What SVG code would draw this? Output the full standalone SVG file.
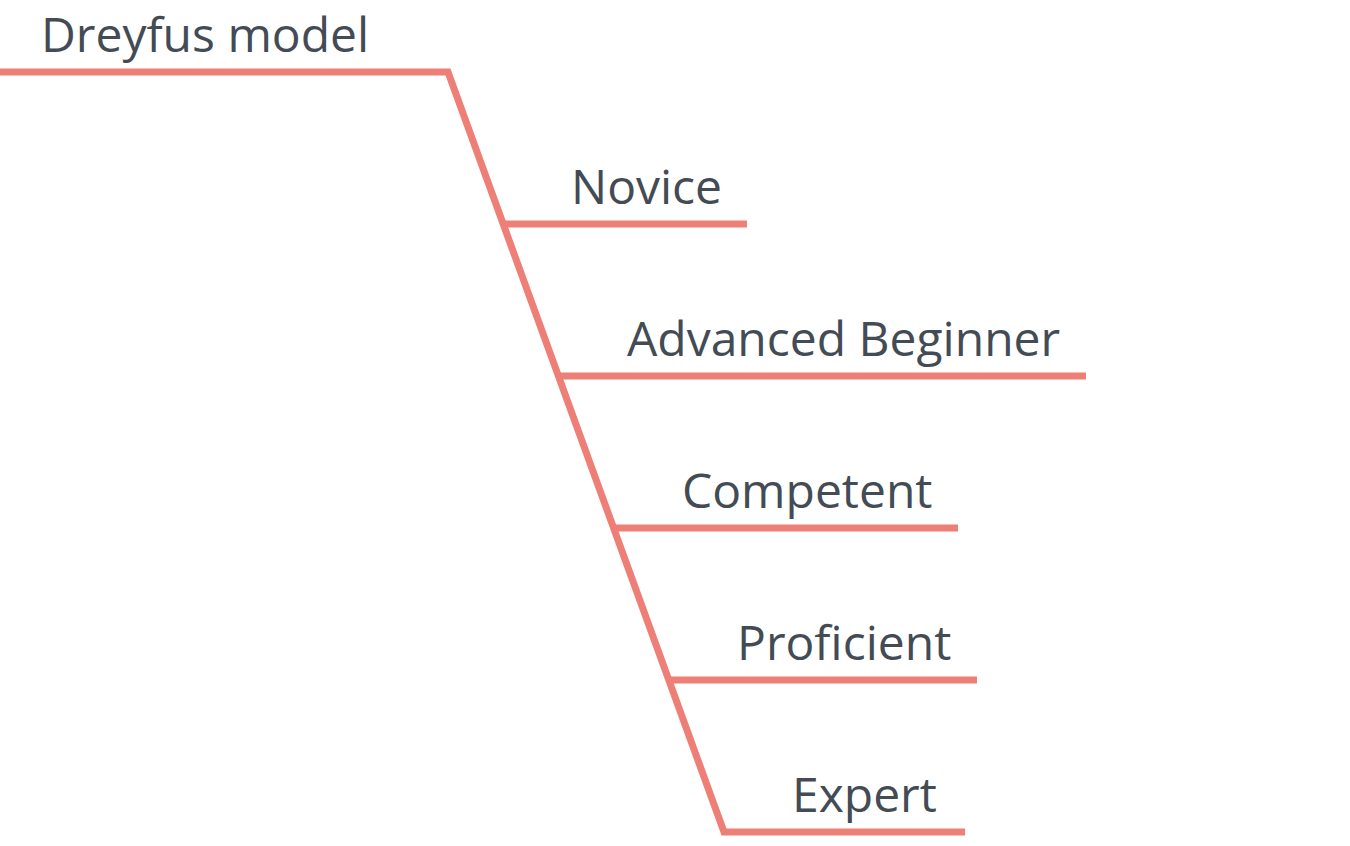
<svg xmlns="http://www.w3.org/2000/svg" width="1350" height="846" viewBox="0 0 1350 846">
<style>
.ln{fill:none;stroke:#ed7f77;stroke-width:7;stroke-linejoin:miter;stroke-linecap:butt}
.lbl{font-family:"Open Sans","Liberation Sans",sans-serif;font-size:48px;fill:#434b55}
</style>
<rect width="1350" height="846" fill="#ffffff"/>
<g id="connectors">
<polyline class="ln" points="0,72 448,72 724,832 965,832"/>
<line class="ln" x1="503.2" y1="224" x2="747" y2="224"/>
<line class="ln" x1="558.4" y1="376" x2="1086" y2="376"/>
<line class="ln" x1="613.6" y1="528" x2="958" y2="528"/>
<line class="ln" x1="668.8" y1="680" x2="977" y2="680"/>
</g>
<g id="root"><text class="lbl" x="41" y="52">Dreyfus model</text></g>
<g id="novice"><text class="lbl" x="571" y="204">Novice</text></g>
<g id="advanced-beginner"><text class="lbl" x="627" y="356">Advanced Beginner</text></g>
<g id="competent"><text class="lbl" x="682" y="508">Competent</text></g>
<g id="proficient"><text class="lbl" x="737" y="660">Proficient</text></g>
<g id="expert"><text class="lbl" x="792" y="812">Expert</text></g>
</svg>
